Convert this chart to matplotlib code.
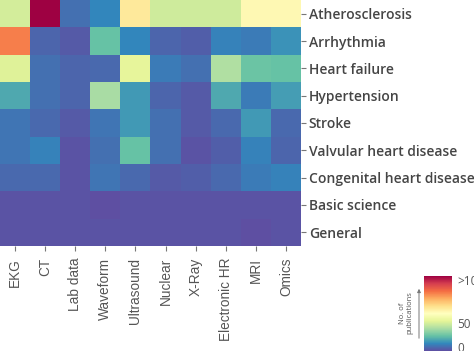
import numpy as np
import matplotlib
matplotlib.use("Agg")
import matplotlib.pyplot as plt

# data sources (columns) and disease areas (rows)
sources = ["EKG", "CT", "Lab data", "Waveform", "Ultrasound", "Nuclear",
           "X-Ray", "Electronic HR", "MRI", "Omics"]
diseases = ["Atherosclerosis", "Arrhythmia", "Heart failure", "Hypertension",
            "Stroke", "Valvular heart disease", "Congenital heart disease",
            "Basic science", "General"]

# number of publications (capped at 100)
atherosclerosis = [37, 100, 6, 10, 57, 36, 36, 36, 52, 52]
arrhythmia      = [77, 4, 2, 20, 10, 4, 3, 9, 8, 12]
heart_failure   = [39, 6, 4, 5, 41, 8, 6, 31, 21, 20]
hypertension    = [16, 6, 4, 30, 13, 4, 2, 16, 8, 14]
stroke          = [7, 5, 2, 7, 13, 6, 2, 5, 13, 5]
valvular        = [7, 9, 1, 6, 20, 6, 1, 3, 9, 4]
congenital      = [5, 5, 1, 7, 5, 2, 3, 5, 8, 9]
basic_science   = [1, 1, 1, 0, 1, 1, 1, 1, 1, 1]
general         = [1, 1, 1, 1, 1, 1, 1, 1, 0, 1]

counts = np.array([atherosclerosis, arrhythmia, heart_failure, hypertension,
                   stroke, valvular, congenital, basic_science, general])

W, H = 474, 351
fig = plt.figure(figsize=(W / 100, H / 100), dpi=100)

# main heatmap
ax = fig.add_axes([0, 1 - 246 / H, 301 / W, 246 / H])
cmap = plt.get_cmap("Spectral_r")
im = ax.imshow(counts, cmap=cmap, vmin=0, vmax=100, aspect="auto",
               interpolation="nearest")

ax.set_xticks(np.arange(len(sources)))
ax.set_xticklabels(sources, rotation=90, fontsize=9.8, color="#555555",
                   family=["Liberation Sans", "DejaVu Sans"])
ax.yaxis.tick_right()
ax.set_yticks(np.arange(len(diseases)))
ax.set_yticklabels(diseases, fontsize=10, color="#454545", fontweight="semibold",
                   family=["Open Sans", "DejaVu Sans"])
ax.tick_params(axis="both", length=3.5, width=0.8, color="#777777", pad=2)
ax.tick_params(axis="x", pad=5)
for s in ax.spines.values():
    s.set_visible(False)

# colorbar in the lower right corner
cax = fig.add_axes([424 / W, 0, 28 / W, 75 / H])
cb = fig.colorbar(im, cax=cax)
cb.outline.set_visible(False)
cb.set_ticks([5, 37, 95])
cb.set_ticklabels(["0", "50", ">100"])
cax.tick_params(length=0, pad=4, labelsize=8.5, labelcolor="#555555")
for t in cax.get_yticklabels():
    t.set_family(["Open Sans", "DejaVu Sans"])

fig.text(406 / W, 1 - 313 / H, "No. of\npublications", rotation=90,
         fontsize=5.5, color="#555555", ha="center", va="center",
         family=["Open Sans", "DejaVu Sans"], linespacing=1.1)
fig.add_artist(matplotlib.patches.FancyArrowPatch(
    (419 / W, 1 - 341 / H), (419 / W, 1 - 286 / H),
    transform=fig.transFigure, arrowstyle="-|>", mutation_scale=5,
    color="#777777", lw=0.7))

fig.savefig("out.png", dpi=100)
